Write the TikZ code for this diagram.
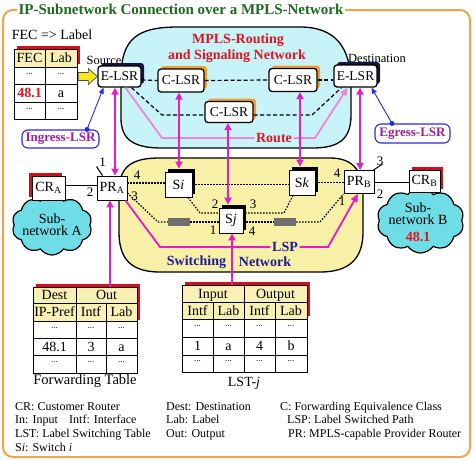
\documentclass[tikz,border=0pt]{standalone}
\usepackage{fontspec}
\setmainfont{Liberation Serif}
\usetikzlibrary{arrows.meta,shapes.symbols,shadows,calc}
\newcommand\myfs[1]{\fontsize{#1}{#1}\selectfont}
\definecolor{framec}{HTML}{F5A24E}
\definecolor{titlec}{HTML}{1E6B1E}
\definecolor{mplsfill}{HTML}{C8F3F8}
\definecolor{swfill}{HTML}{F7F0A6}
\definecolor{subfill}{HTML}{6EDDE6}
\definecolor{hdr}{HTML}{F8F0B4}
\definecolor{redsh}{HTML}{D0101C}
\definecolor{mag}{HTML}{E41BC8}
\definecolor{routec}{HTML}{EE86D4}
\definecolor{bluec}{HTML}{2A2AD8}
\definecolor{purp}{HTML}{A01E9E}
\definecolor{navyt}{HTML}{1C1C96}
\definecolor{redt}{HTML}{E0141E}
\definecolor{navysh}{HTML}{14143C}
\definecolor{orsh}{HTML}{F0A030}
\definecolor{grayr}{HTML}{6E6E6E}
\definecolor{yarrow}{HTML}{F8E818}
\begin{document}
\begin{tikzpicture}[x=1pt,y=-1pt,
  lsrbase/.style={draw,line width=1.3pt,rounded corners=3pt,fill=white,inner sep=0pt,font=\myfs{13.5}},
  elsr/.style={lsrbase,minimum width=43pt,minimum height=21pt,drop shadow={shadow xshift=3pt,shadow yshift=3pt,fill=navysh,opacity=1}},
  clsr/.style={lsrbase,minimum width=47pt,minimum height=23pt,drop shadow={shadow xshift=3pt,shadow yshift=3pt,fill=orsh,opacity=1}},
  rbox/.style={draw,line width=0.9pt,fill=white,inner sep=0pt,font=\myfs{14},minimum width=30pt,minimum height=23pt},
  sbox/.style={draw,line width=0.9pt,fill=white,inner sep=0pt,font=\myfs{14},minimum width=26pt,minimum height=25pt,drop shadow={shadow xshift=3pt,shadow yshift=3pt,fill=black,opacity=1}},
  port/.style={font=\myfs{13},inner sep=0pt},
  magarr/.style={draw=mag,line width=1.8pt,{Triangle[length=7pt,width=7pt]}-{Triangle[length=7pt,width=7pt]}},
  magone/.style={draw=mag,line width=1.8pt,{Triangle[length=7pt,width=7pt]}-},
  routel/.style={draw=routec,line width=1.8pt},
  lspl/.style={draw=mag,line width=1.8pt},
  dashl/.style={line width=1.2pt,dash pattern=on 4pt off 2.5pt},
  dotl/.style={line width=1.2pt,dash pattern=on 1.5pt off 1.5pt},
  bluel/.style={draw=bluec,line width=0.9pt,-{Triangle[length=6pt,width=5pt]}},
  lbl/.style={draw=bluec,line width=1.1pt,rounded corners=6pt,fill=white,text=purp,font=\bfseries\myfs{13},inner sep=0pt},
  cell/.style={font=\myfs{14},inner sep=0pt,text height=9pt,text depth=0pt},
  dots/.style={font=\myfs{9},inner sep=0pt},
  leg/.style={font=\myfs{12},anchor=base west,inner sep=0pt},
  tline/.style={line width=1pt},
  bold/.style={font=\bfseries\myfs{14},inner sep=1.5pt},
]
\useasboundingbox (0,0) rectangle (474,459);
% frame and title
\draw[framec,line width=2pt,rounded corners=10pt] (3,10) rectangle (470,457);
\node[fill=white,text=titlec,font=\bfseries\myfs{15},inner sep=2pt] (title) at (181,9) {IP-Subnetwork Connection over a MPLS-Network};

% clouds
\draw[line width=1.3pt,fill=mplsfill] (121,118) -- (121,78) .. controls (121,38) and (138,27) .. (178,27) -- (300,27) .. controls (336,27) and (351,48) .. (351,85) -- (351,115) .. controls (351,140) and (338,148) .. (312,148) -- (162,148) .. controls (134,148) and (121,140) .. (121,118) -- cycle;
\draw[line width=1.3pt,fill=swfill] (119,232) -- (119,192) .. controls (119,166) and (132,158) .. (160,158) -- (330,158) .. controls (354,158) and (363,172) .. (363,195) -- (363,232) .. controls (363,260) and (348,272) .. (320,272) -- (160,272) .. controls (132,272) and (119,260) .. (119,232) -- cycle;
\node[cloud,cloud puffs=10,cloud puff arc=110,aspect=1.35,draw,line width=1.2pt,fill=subfill,minimum width=80pt,minimum height=60pt,inner sep=0pt] (subA) at (52,225) {};
\node[cloud,cloud puffs=10,cloud puff arc=110,aspect=1.35,draw,line width=1.2pt,fill=subfill,minimum width=87pt,minimum height=65pt,inner sep=0pt] (subB) at (420.5,220.5) {};
\node[font=\myfs{14},anchor=base,inner sep=0pt] (subA1) at (52,223) {Sub-};
\node[font=\myfs{14},anchor=base,inner sep=0pt] (subA2) at (52,235.5) {network A};
\node[font=\myfs{14},anchor=base,inner sep=0pt] (subB1) at (418,212) {Sub-};
\node[font=\myfs{14},anchor=base,inner sep=0pt] (subB2) at (418,224.5) {network B};
\node[font=\bfseries\myfs{14},text=redt,anchor=base,inner sep=0pt] (subB3) at (418,241.5) {48.1};

% network titles
\node[bold,text=redt] (mplst1) at (238,40) {MPLS-Routing};
\node[bold,text=redt] (mplst2) at (237,56) {and Signaling Network};
\node[bold,text=navyt] (swt1) at (196.5,262) {Switching};
\node[bold,text=navyt] (swt2) at (265,262) {Network};
\node[font=\myfs{12.5},inner sep=0pt] (srcl) at (104,60) {Source};
\node[font=\myfs{12.5},inner sep=0pt] (dstl) at (377,58) {Destination};
\node[font=\myfs{14},inner sep=0pt] (fecl) at (52,35) {FEC => Label};

% LSR nodes
\node[elsr] (src) at (119.5,76.5) {E-LSR};
\node[elsr,minimum height=22pt] (dst) at (355.5,76) {E-LSR};
\node[clsr,minimum width=46pt] (c1) at (181,80.5) {C-LSR};
\node[clsr,minimum width=48pt] (c2) at (293,80) {C-LSR};
\node[clsr,minimum width=48pt,minimum height=21pt] (c3) at (229,112) {C-LSR};

% routers and switches
\node[rbox,minimum width=33pt,minimum height=24pt,drop shadow={shadow xshift=-3pt,shadow yshift=3pt,fill=redsh,opacity=1}] (crA) at (48.5,188) {CR\textsubscript{A}};
\node[rbox,minimum width=31pt,minimum height=22pt,drop shadow={shadow xshift=3pt,shadow yshift=3pt,fill=redsh,opacity=1}] (crB) at (424.5,181) {CR\textsubscript{B}};
\node[rbox,minimum height=24pt] (prA) at (112,188) {PR\textsubscript{A}};
\node[rbox] (prB) at (359,182) {PR\textsubscript{B}};
\node[sbox,minimum width=27pt] (si) at (178.5,184.5) {S\textit{i}};
\node[sbox] (sk) at (302,182.5) {S\textit{k}};
\node[sbox,minimum width=24pt] (sj) at (231,220.5) {S\textit{j}};
\node[fill=grayr,minimum width=22pt,minimum height=8pt,inner sep=0pt] (g1) at (179,222) {};
\node[fill=grayr,minimum width=22pt,minimum height=8pt,inner sep=0pt] (g2) at (285,222) {};

% dashed links in MPLS network
\draw[dashl] ([yshift=-3.5pt]src.east) -- (c1.west);
\draw[dashl] (c1.east) -- (c2.west);
\draw[dashl] (c2.east) -- ([yshift=-4pt]dst.west);
\draw[dashl] ([xshift=12pt]src.south) -- (162,115) -- ([yshift=-3pt]c3.west);
\draw[dashl] ([yshift=-3pt]c3.east) -- (312,115) -- ([xshift=-14pt]dst.south);

% dotted links in switching network
\draw[dotl] ([yshift=5pt]prA.east) -- ([yshift=5pt]prA.east -| si.west);
\draw[dotl] (si.east) -- (si.east -| sk.west);
\draw[dotl] (sk.east) -- (sk.east -| prB.west);
\draw[dotl] ([xshift=9.5pt]si.south) -- (200,213) -- ([yshift=7.5pt]sj.west);
\draw[dotl] ([xshift=-9pt]sk.south) -- (284,213) -- ([yshift=7.5pt]sj.east);
\draw[dotl] ([yshift=-5pt]prA.east) -- (158,222) -- (g1.west);
\draw[dotl] (g1.east) -- ([yshift=-1.5pt]sj.west);
\draw[dotl] ([yshift=-1.5pt]sj.east) -- (g2.west);
\draw[dotl] (g2.east) -- (320,222) -- (prB.south west);

% route and LSP
\node[bold,text=redt] (route) at (274,138) {Route};
\draw[routel] ([xshift=6pt]src.south) -- (162,138) -- (route.west);
\draw[routel,-{Triangle[length=8pt,width=7pt]}] (route.east) -- (315,138) -- ([xshift=-8pt]dst.south);
\node[bold,text=navyt] (lsp) at (285,247) {LSP};
\draw[lspl] ([xshift=-2pt]prA.south east) -- (160,247) -- (lsp.west);
\draw[lspl,-{Triangle[length=8pt,width=7pt]}] (lsp.east) -- (328,247) -- ([xshift=-1pt]prB.south);

% vertical control links
\draw[magarr] ([xshift=-4.5pt]src.south) -- ([xshift=3pt]prA.north);
\draw[magarr] ([xshift=-2pt]c1.south) -- ([xshift=0.5pt,yshift=3pt]si.north);
\draw[magarr] ([xshift=-1pt]c3.south) -- ([xshift=-3pt,yshift=3pt]sj.north);
\draw[magarr] ([xshift=7pt]c2.south) -- ([xshift=-2pt,yshift=3pt]sk.north);
\draw[magarr] ([xshift=4.5pt]dst.south) -- ([xshift=1pt]prB.north);

% CR-PR links and port stubs
\draw[tline] ([yshift=3pt]crA.east) -- ([yshift=3pt]prA.west);
\draw[tline] (prB.east) -- (prB.east -| crB.west);
\draw[tline] ([xshift=6pt]prA.north west) -- ++(-6,-9);
\draw[tline] ([xshift=-1pt]prB.north east) -- ++(9,-6);
\node[port] (pa1) at (102.5,162) {1};
\node[port] (pa2) at (90,192) {2};
\node[port] (pa4) at (137,175) {4};
\node[port] (pa3) at (134.5,196) {3};
\node[port] (pb3) at (380,161) {3};
\node[port] (pb2) at (380,194) {2};
\node[port] (pb4) at (337,173) {4};
\node[port] (pb1) at (342,201) {1};
\node[port] (pj2) at (215,204) {2};
\node[port] (pj3) at (253,204) {3};
\node[port] (pj1) at (213,230) {1};
\node[port] (pj4) at (252,231) {4};

% ingress / egress labels
\node[lbl,minimum width=77pt,minimum height=18pt] (ing) at (60.5,139) {Ingress-LSR};
\node[lbl,minimum width=75pt,minimum height=19pt] (egr) at (412.5,133.5) {Egress-LSR};
\draw[bluel] ([xshift=26.5pt]ing.north) -- ([xshift=-16pt]src.south);
\fill[bluec] ([xshift=26.5pt]ing.north) circle (2.5pt);
\draw[bluel] ([xshift=-20.5pt]egr.north) -- ([xshift=16pt]dst.south);
\fill[bluec] ([xshift=-20.5pt]egr.north) circle (2.5pt);

% FEC table
\fill[redsh] (17,46) rectangle (80,64);
\fill[white] (14,49) rectangle (77,119);
\fill[hdr] (14,49) rectangle (77,67);
\draw[tline] (14,49) rectangle (77,119) (45,49) -- (45,119) (14,67) -- (77,67) (14,84) -- (77,84) (14,102) -- (77,102);
\node[inner sep=0pt,minimum width=63pt,minimum height=70pt] (fec) at (45.5,84) {};
\node[cell] (fa1) at (29.5,58) {FEC};
\node[cell] (fa2) at (61,58) {Lab};
\node[dots] (fb1) at (29.5,74) {...};
\node[dots] (fb2) at (61,74) {...};
\node[cell,font=\bfseries\myfs{14},text=redt] (fc1) at (29.5,93) {48.1};
\node[cell] (fc2) at (61,93) {a};
\node[dots] (fd1) at (29.5,109) {...};
\node[dots] (fd2) at (61,109) {...};
\draw[fill=yarrow,draw=black!70,line width=0.7pt] (src.west) -- ++(-9,-8) -- ++(0,4) -- ++(-10,0) -- ++(0,8) -- ++(10,0) -- ++(0,4) -- cycle;

% Forwarding table
\fill[redsh] (36,284) rectangle (140,320);
\fill[white] (33,287) rectangle (137,373);
\fill[hdr] (33,287) rectangle (137,321);
\draw[tline] (33,287) rectangle (137,373) (76,287) -- (76,373) (106,303) -- (106,373) (33,303) -- (137,303) (33,321) -- (137,321) (33,338) -- (137,338) (33,355) -- (137,355);
\node[inner sep=0pt,minimum width=104pt,minimum height=86pt] (ftab) at (85,330) {};
\node[cell] (t11) at (54.5,295) {Dest};
\node[cell] (t12) at (106.5,295) {Out};
\node[cell] (t21) at (54.5,312) {IP-Pref};
\node[cell] (t22) at (91,312) {Intf};
\node[cell] (t23) at (121.5,312) {Lab};
\node[dots] (t31) at (54.5,328) {...};
\node[dots] (t32) at (91,328) {...};
\node[dots] (t33) at (121.5,328) {...};
\node[cell] (t41) at (54.5,346.5) {48.1};
\node[cell] (t42) at (91,346.5) {3};
\node[cell] (t43) at (121.5,346.5) {a};
\node[dots] (t51) at (54.5,362.5) {...};
\node[dots] (t52) at (91,362.5) {...};
\node[dots] (t53) at (121.5,362.5) {...};
\node[font=\myfs{14.5},inner sep=0pt] (ftcap) at (85,381) {Forwarding Table};
\draw[magone] ([xshift=-2pt]prA.south) -- ([xshift=-2pt]prA.south |- ftab.north);

% LST table
\fill[redsh] (185,282) rectangle (310,316);
\fill[white] (182,285) rectangle (307,372);
\fill[hdr] (182,285) rectangle (307,319);
\draw[tline] (182,285) rectangle (307,372) (244,285) -- (244,372) (213,302) -- (213,372) (275,302) -- (275,372) (182,302) -- (307,302) (182,319) -- (307,319) (182,337) -- (307,337) (182,355) -- (307,355);
\node[inner sep=0pt,minimum width=125pt,minimum height=87pt] (lst) at (244.5,328.5) {};
\node[cell] (l11) at (213,293.5) {Input};
\node[cell] (l12) at (275.5,293.5) {Output};
\node[cell] (l21) at (197.5,310.5) {Intf};
\node[cell] (l22) at (228.5,310.5) {Lab};
\node[cell] (l23) at (259.5,310.5) {Intf};
\node[cell] (l24) at (291,310.5) {Lab};
\node[dots] (l31) at (197.5,326) {...};
\node[dots] (l32) at (228.5,326) {...};
\node[dots] (l33) at (259.5,326) {...};
\node[dots] (l34) at (291,326) {...};
\node[cell] (l41) at (197.5,346) {1};
\node[cell] (l42) at (228.5,346) {a};
\node[cell] (l43) at (259.5,346) {4};
\node[cell] (l44) at (291,346) {b};
\node[dots] (l51) at (197.5,361.5) {...};
\node[dots] (l52) at (228.5,361.5) {...};
\node[dots] (l53) at (259.5,361.5) {...};
\node[dots] (l54) at (291,361.5) {...};
\node[font=\myfs{14},inner sep=0pt] (lstcap) at (244,383) {LST-\textit{j}};
\draw[magone] ([xshift=1pt]sj.south) -- ([xshift=1pt]sj.south |- lst.north);

% legend
\node[leg] (lg1) at (15,410) {CR: Customer Router};
\node[leg] (lg2) at (15,423.5) {In: Input};
\node[leg] (lg3) at (69,423.5) {Intf: Interface};
\node[leg] (lg4) at (15,437.5) {LST: Label Switching Table};
\node[leg] (lg5) at (15,451) {S\textit{i}: Switch \textit{i}};
\node[leg] (lg6) at (166,410) {Dest: Destination};
\node[leg] (lg7) at (166,423.5) {Lab: Label};
\node[leg] (lg8) at (166,437.5) {Out: Output};
\node[leg] (lg9) at (280,410) {C: Forwarding Equivalence Class};
\node[leg] (lg10) at (287,423.5) {LSP: Label Switched Path};
\node[leg] (lg11) at (288,437.5) {PR: MPLS-capable Provider Router};
\end{tikzpicture}
\end{document}
